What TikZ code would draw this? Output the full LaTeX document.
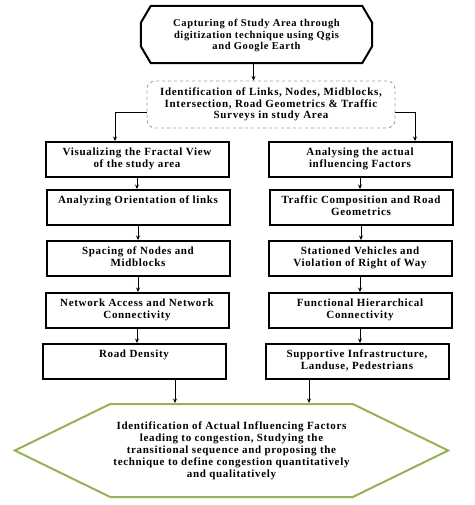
\documentclass[tikz,border=0pt]{standalone}
\usepackage{fontspec}
\setmainfont{Liberation Serif}[LetterSpace=6]
\usetikzlibrary{shapes.symbols,arrows.meta}
\definecolor{idgray}{RGB}{160,160,170}
\definecolor{hexgreen}{RGB}{150,178,85}
\tikzset{
  stage/.style={draw, line width=2pt, minimum width=183pt, minimum height=35pt, inner sep=0pt},
  arr/.style={-{Stealth[length=4.5pt,width=4pt]}, line width=0.7pt},
}
\newcommand{\cell}[1]{\parbox[c][23pt][t]{180pt}{\centering #1}}
\begin{document}
\begin{tikzpicture}[x=1pt,y=-1pt, font=\fontsize{11}{11.8}\selectfont\bfseries]
\useasboundingbox (0,0) rectangle (474,505);
% TOP: capturing and identification
\node[minimum width=231pt, minimum height=57pt, align=center, font=\fontsize{10.5}{11.8}\selectfont\bfseries] (cap) at (256.5,35.5)
      {Capturing of Study Area through\\digitization technique using Qgis\\and Google Earth};
\draw[line width=2pt] ([xshift=10pt,yshift=1pt]cap.north west) -- ([xshift=-10pt,yshift=1pt]cap.north east) -- ([yshift=-16pt]cap.north east)
  -- ([yshift=18pt]cap.south east) -- ([xshift=-10pt,yshift=1pt]cap.south east) -- ([xshift=10pt,yshift=1pt]cap.south west)
  -- ([yshift=18pt]cap.south west) -- ([yshift=-16pt]cap.north west) -- cycle;
\node[draw=idgray, dashed, rounded corners=8pt, line width=0.9pt, minimum width=248pt, minimum height=47pt,
      align=center] (ident) at (271,104.5)
      {Identification of Links, Nodes, Midblocks,\\Intersection, Road Geometrics \& Traffic\\Surveys in study Area};
% LEFT column
\node[stage] (L1) at (137,159.5) {\cell{Visualizing the Fractal View\\of the study area}};
\node[stage] (L2) at (138,207.5) {\cell{Analyzing Orientation of links}};
\node[stage] (L3) at (138,258.5) {\cell{Spacing of Nodes and\\Midblocks}};
\node[stage] (L4) at (137,310.5) {\cell{Network Access and Network\\Connectivity}};
\node[stage] (L5) at (134,361.5) {\cell{Road Density}};
% RIGHT column
\node[stage] (R1) at (360,159.5) {\cell{Analysing the actual\\influencing Factors}};
\node[stage] (R2) at (361,207.5) {\cell{Traffic Composition and Road\\Geometrics}};
\node[stage] (R3) at (360,258.5) {\cell{Stationed Vehicles and\\Violation of Right of Way}};
\node[stage] (R4) at (360,310.5) {\cell{Functional Hierarchical\\Connectivity}};
\node[stage] (R5) at (357,361.5) {\cell{Supportive Infrastructure,\\Landuse, Pedestrians}};
% BOTTOM: outcome
\node[draw=hexgreen, line width=2pt, signal, signal to=west and east, signal pointer angle=52,
      minimum width=383pt, minimum height=93pt, align=center, font=\fontsize{11}{12}\selectfont\bfseries] (out) at (231.5,450.5)
      {Identification of Actual Influencing Factors\\leading to congestion, Studying the\\transitional sequence and proposing the\\technique to define congestion quantitatively\\and qualitatively};
% connectors
\draw[arr] ([xshift=-3pt]cap.south) -- ([xshift=-3pt]cap.south |- ident.north);
\draw[arr] ([yshift=-7.5pt]ident.west) -| ([xshift=-22pt]L1.north);
\draw[arr] ([yshift=-7.5pt]ident.east) -| ([xshift=55pt]R1.north);
\foreach \a/\b in {L1/L2,L2/L3,L3/L4,L4/L5,R1/R2,R2/R3,R3/R4,R4/R5}
  \draw[arr] (\a.south) -- (\a.south |- \b.north);
\draw[arr] ([xshift=41pt]L5.south) -- ([xshift=41pt]L5.south |- out.north);
\draw[arr] ([xshift=-48pt]R5.south) -- ([xshift=-48pt]R5.south |- out.north);
\end{tikzpicture}
\end{document}
